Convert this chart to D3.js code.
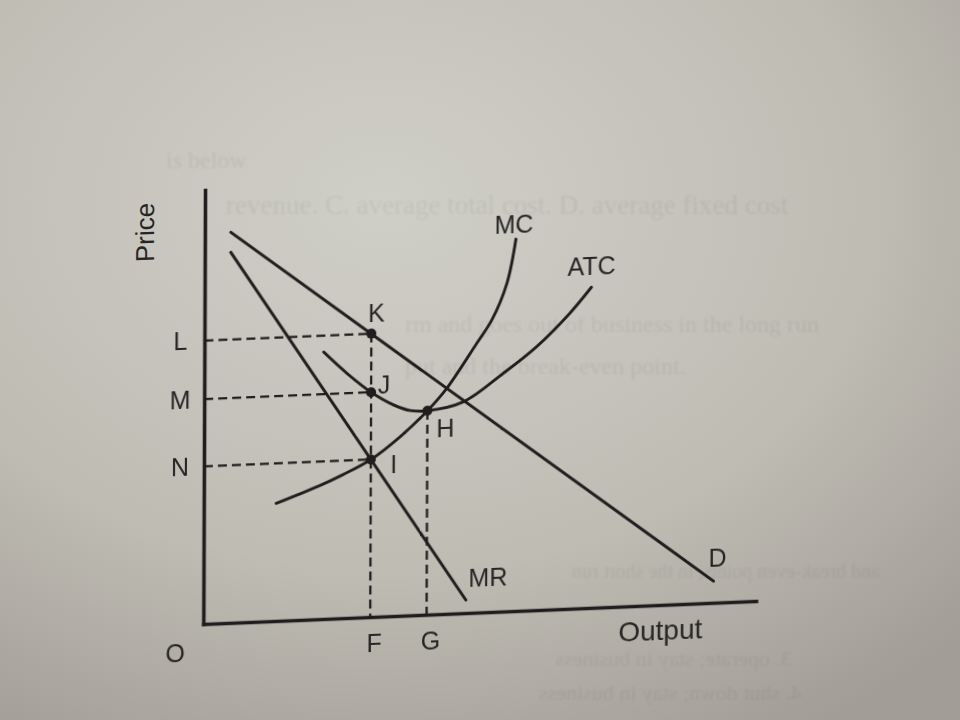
<!DOCTYPE html>
<html>
<head>
<meta charset="utf-8">
<script src="https://cdn.jsdelivr.net/npm/d3@7"></script>
<style>
  body { margin: 0; background: #bdbab2; }
  svg { display: block; }
</style>
</head>
<body>
<div id="chart"></div>
<script>
// Values (price and output in arbitrary units, 0-10)
var demand = [[0.47, 9.0], [9.23, 0.5]];
var marginalRevenue = [[0.47, 8.54], [4.75, 0.30]];
var marginalCost = [[1.31, 2.71], [2.10, 3.08], [2.52, 3.31], [3.02, 3.63], [3.55, 4.13], [4.04, 4.70],
  [4.39, 5.20], [4.93, 6.21], [5.20, 6.73], [5.47, 7.56], [5.63, 8.57]];
var averageTotalCost = [[2.16, 6.15], [2.58, 5.64], [3.02, 5.18], [3.42, 4.87], [3.73, 4.72], [4.04, 4.70],
  [4.69, 4.87], [5.41, 5.49], [6.01, 6.07], [6.61, 6.81], [7.00, 7.39]];
var priceLevels = [6.53, 5.18, 3.63];
var priceLabels = ["L", "M", "N"];
var outputLevels = [3.02, 4.04];
var outputLabels = ["F", "G"];
var points = [[3.02, 6.53], [3.02, 5.18], [3.02, 3.63], [4.04, 4.70]];
var pointLabels = ["K", "J", "I", "H"];

// SVG area
var svgWidth = 960;
var svgHeight = 720;
var chartWidth = 553;
var chartHeight = 434;
var ink = "#1f1d1d";
var font = "'Liberation Sans', Arial, sans-serif";

var svg = d3.select("#chart")
  .append("svg")
  .attr("width", svgWidth)
  .attr("height", svgHeight);

// paper
var defs = svg.append("defs");
var grad = defs.append("radialGradient")
  .attr("id", "paper")
  .attr("cx", "40%").attr("cy", "28%").attr("r", "85%");
grad.append("stop").attr("offset", "0%").attr("stop-color", "#d0cfc7");
grad.append("stop").attr("offset", "60%").attr("stop-color", "#bfbcb4");
grad.append("stop").attr("offset", "100%").attr("stop-color", "#a29e97");
defs.append("filter").attr("id", "soft")
  .append("feGaussianBlur").attr("stdDeviation", 1.1);
svg.append("rect")
  .attr("width", svgWidth)
  .attr("height", svgHeight)
  .attr("fill", "url(#paper)");

// print showing through from the next page
var ghost = svg.append("g")
  .attr("fill", "#000")
  .attr("opacity", 0.06)
  .attr("filter", "url(#soft)")
  .attr("font-family", "'Liberation Serif', serif")
  .attr("font-size", 24);
ghost.append("text").attr("x", 166).attr("y", 168).text("is below");
ghost.append("text").attr("x", 226).attr("y", 214).attr("font-size", 27)
  .text("revenue.  C. average total cost.  D. average fixed cost");
ghost.append("text").attr("x", 405).attr("y", 332)
  .text("rm and goes out of business in the long run");
ghost.append("text").attr("x", 405).attr("y", 374)
  .text("put and the break-even point.");
ghost.append("text").attr("transform", "translate(880,578) scale(-1,1)").attr("font-size", 20)
  .text("and break-even points, in the short run");
ghost.append("text").attr("transform", "translate(792,666) scale(-1,1)").attr("font-size", 22)
  .text("3. operate; stay in business");
ghost.append("text").attr("transform", "translate(802,700) scale(-1,1)").attr("font-size", 22)
  .text("4. shut down; stay in business");

// the photo is a little skewed, so the whole figure sits in a tilted group
var chartGroup = svg.append("g")
  .attr("transform", "matrix(0.99946,-0.04159,-0.004,1,203.3,624)");

var xScale = d3.scaleLinear().domain([0, 10]).range([0, chartWidth]);
var yScale = d3.scaleLinear().domain([0, 10]).range([0, -chartHeight]);

var straight = d3.line()
  .x(d => xScale(d[0]))
  .y(d => yScale(d[1]));
var smooth = d3.line()
  .curve(d3.curveCatmullRom.alpha(0.5))
  .x(d => xScale(d[0]))
  .y(d => yScale(d[1]));

// dashed guides
var guides = chartGroup.append("g")
  .attr("fill", "none")
  .attr("stroke", ink)
  .attr("stroke-width", 2.3)
  .attr("stroke-dasharray", "9,5");
priceLevels.forEach(function(p) {
  guides.append("path").attr("d", straight([[0, p], [outputLevels[0], p]]));
});
guides.append("path").attr("d", straight([[outputLevels[0], priceLevels[0]], [outputLevels[0], 0]]));
guides.append("path").attr("d", straight([[outputLevels[1], points[3][1]], [outputLevels[1], 0]]));

// axes, bare lines without ticks
var xAxis = d3.axisBottom(xScale).tickValues([]).tickSizeOuter(0);
var yAxis = d3.axisLeft(yScale).tickValues([]).tickSizeOuter(0);
chartGroup.append("g").call(xAxis);
chartGroup.append("g").call(yAxis);
chartGroup.selectAll(".domain")
  .attr("stroke", ink)
  .attr("stroke-width", 3.6)
  .attr("stroke-linecap", "square");

// curves
var curves = [
  { name: "D", values: demand, gen: straight, dx: 4, dy: -23 },
  { name: "MR", values: marginalRevenue, gen: straight, dx: 22, dy: -22 },
  { name: "MC", values: marginalCost, gen: smooth, dx: -2, dy: -15 },
  { name: "ATC", values: averageTotalCost, gen: smooth, dx: 0, dy: -21 }
];
chartGroup.selectAll("path.curve")
  .data(curves)
  .enter()
  .append("path")
  .attr("class", "curve")
  .attr("d", d => d.gen(d.values))
  .attr("fill", "none")
  .attr("stroke", ink)
  .attr("stroke-width", 2.9)
  .attr("stroke-linecap", "round");

var labels = chartGroup.append("g")
  .attr("fill", "#262424")
  .attr("font-family", font)
  .attr("font-size", 25)
  .attr("text-anchor", "middle");

labels.selectAll("text.curve-label")
  .data(curves)
  .enter()
  .append("text")
  .attr("x", d => xScale(d.values[d.values.length - 1][0]) + d.dx)
  .attr("y", d => yScale(d.values[d.values.length - 1][1]) + d.dy)
  .attr("dy", "0.35em")
  .text(d => d.name);

// marked points
var pointOffsets = [[5, -20], [13, -7], [23, 6], [18, 18]];
chartGroup.selectAll("circle")
  .data(points)
  .enter()
  .append("circle")
  .attr("cx", d => xScale(d[0]))
  .attr("cy", d => yScale(d[1]))
  .attr("r", 5)
  .attr("fill", ink);
labels.selectAll("text.point-label")
  .data(points)
  .enter()
  .append("text")
  .attr("x", (d, i) => xScale(d[0]) + pointOffsets[i][0])
  .attr("y", (d, i) => yScale(d[1]) + pointOffsets[i][1])
  .attr("dy", "0.35em")
  .text((d, i) => pointLabels[i]);

// letters on the axes
labels.selectAll("text.price-label")
  .data(priceLevels)
  .enter()
  .append("text")
  .attr("x", -24)
  .attr("y", d => yScale(d))
  .attr("dy", "0.35em")
  .text((d, i) => priceLabels[i]);
labels.selectAll("text.output-label")
  .data(outputLevels)
  .enter()
  .append("text")
  .attr("x", d => xScale(d) + 4)
  .attr("y", 26)
  .attr("dy", "0.35em")
  .text((d, i) => outputLabels[i]);
labels.append("text")
  .attr("x", -28).attr("y", 28).attr("dy", "0.35em")
  .text("O");
labels.append("text")
  .attr("x", xScale(8.27)).attr("y", 25).attr("dy", "0.35em")
  .attr("font-size", 28)
  .text("Output");
labels.append("text")
  .attr("transform", "translate(-60," + (yScale(10) + 40) + ") rotate(-90)")
  .attr("dy", "0.35em")
  .attr("font-size", 26)
  .text("Price");
</script>
</body>
</html>
